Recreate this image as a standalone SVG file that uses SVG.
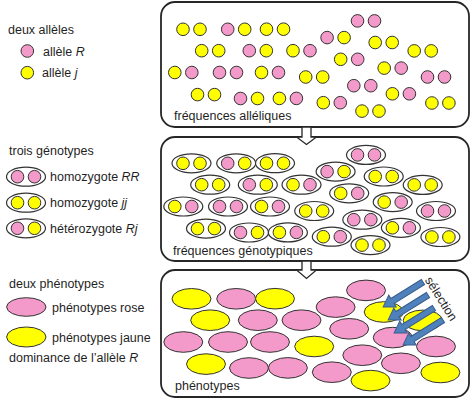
<svg xmlns="http://www.w3.org/2000/svg" width="474" height="402" viewBox="0 0 474 402">
<style>
.t{font-family:"Liberation Sans",Arial,sans-serif;font-size:12.5px;fill:#1f1f1f}
.p{fill:#F39ACB;stroke:#333;stroke-width:1}
.y{fill:#FFFF00;stroke:#333;stroke-width:1}
.o{fill:#fff;stroke:#333;stroke-width:1.2}
.panel{fill:#fff;stroke:#262626;stroke-width:1.8}
.ba{fill:#fff;stroke:#262626;stroke-width:1.3}
.sel{fill:#4F81BD;stroke:#385D8A;stroke-width:1}
</style>
<defs>
<g id="aPP"><circle class="p" cx="-8.5" r="6.3"/><circle class="p" cx="8.5" r="6.3"/></g>
<g id="aPY"><circle class="p" cx="-8.5" r="6.3"/><circle class="y" cx="8.5" r="6.3"/></g>
<g id="aYP"><circle class="y" cx="-8.5" r="6.3"/><circle class="p" cx="8.5" r="6.3"/></g>
<g id="aYY"><circle class="y" cx="-8.5" r="6.3"/><circle class="y" cx="8.5" r="6.3"/></g>
<g id="gPP"><ellipse class="o" rx="19.5" ry="9.5"/><use href="#aPP"/></g>
<g id="gPY"><ellipse class="o" rx="19.5" ry="9.5"/><use href="#aPY"/></g>
<g id="gYP"><ellipse class="o" rx="19.5" ry="9.5"/><use href="#aYP"/></g>
<g id="gYY"><ellipse class="o" rx="19.5" ry="9.5"/><use href="#aYY"/></g>
<ellipse id="eP" class="p" rx="19.5" ry="10.3"/>
<ellipse id="eY" class="y" rx="19.5" ry="10.3"/>
<path id="sa" class="sel" d="M0,-3 L36,-3 L36,-7 L47,0 L36,7 L36,3 L0,3 Z"/>
</defs>

<g id="legend-alleles">
<text class="t" x="8" y="34">deux allèles</text>
<circle class="p" cx="27.3" cy="51" r="6.3"/>
<text class="t" x="43" y="55.5">allèle <tspan font-style="italic">R</tspan></text>
<circle class="y" cx="27.3" cy="72.7" r="6.3"/>
<text class="t" x="42" y="77">allèle <tspan font-style="italic">j</tspan></text>
</g>

<g id="legend-genotypes">
<text class="t" x="9" y="155">trois génotypes</text>
<use href="#gPP" x="26" y="176.7"/>
<text class="t" x="50" y="181">homozygote <tspan font-style="italic">RR</tspan></text>
<use href="#gYY" x="26" y="202.7"/>
<text class="t" x="50" y="207">homozygote <tspan font-style="italic">jj</tspan></text>
<use href="#gPY" x="26" y="228.3"/>
<text class="t" x="50" y="233">hétérozygote <tspan font-style="italic">Rj</tspan></text>
</g>

<g id="legend-phenotypes">
<text class="t" x="9" y="288.3">deux phénotypes</text>
<ellipse class="p" cx="26.3" cy="307" rx="19.7" ry="9.3"/>
<text class="t" x="52" y="311.7">phénotypes rose</text>
<ellipse class="y" cx="26.3" cy="337" rx="19.7" ry="10"/>
<text class="t" x="52" y="341.7">phénotypes jaune</text>
<text class="t" x="9" y="361.7">dominance de l’allèle <tspan font-style="italic">R</tspan></text>
</g>

<g id="panel-alleles">
<rect class="panel" x="161" y="2" width="308" height="125" rx="14"/>
<use href="#aYY" x="191.5" y="29.3"/>
<use href="#aPY" x="236.2" y="29.3"/>
<use href="#aYY" x="275" y="29.2"/>
<use href="#aYY" x="210.2" y="50.7"/>
<use href="#aPY" x="257.8" y="50.7"/>
<use href="#aYP" x="301.5" y="50.7"/>
<use href="#aYP" x="183.3" y="72.5"/>
<use href="#aPP" x="228" y="72.5"/>
<use href="#aYP" x="270" y="72.5"/>
<use href="#aYY" x="314.2" y="77"/>
<use href="#aYY" x="206" y="94.6"/>
<use href="#aPY" x="249" y="98.5"/>
<use href="#aYP" x="287.9" y="98.4"/>
<use href="#aYP" x="331.8" y="102.7"/>
<use href="#aPP" x="366" y="20.9"/>
<use href="#aPY" x="335.6" y="37.6"/>
<use href="#aYY" x="383.7" y="42.5"/>
<use href="#aYY" x="422.7" y="50.9"/>
<use href="#aYP" x="349.2" y="59.3"/>
<use href="#aYP" x="392.7" y="68.1"/>
<use href="#aPP" x="436" y="77"/>
<use href="#aPP" x="362.3" y="85.7"/>
<use href="#aYP" x="400.9" y="93.8"/>
<use href="#aYY" x="440.4" y="103"/>
<use href="#aYY" x="370.5" y="111.1"/>
<text class="t" x="174" y="120">fréquences alléliques</text>
</g>

<g id="panel-genotypes">
<rect class="panel" x="161" y="137" width="308" height="124" rx="14"/>
<g transform="translate(0,134)">
<use href="#gYY" x="191.5" y="29.3"/>
<use href="#gPY" x="236.2" y="29.3"/>
<use href="#gYY" x="275" y="29.2"/>
<use href="#gYY" x="210.2" y="50.7"/>
<use href="#gPY" x="257.8" y="50.7"/>
<use href="#gYP" x="301.5" y="50.7"/>
<use href="#gYP" x="183.3" y="72.5"/>
<use href="#gPP" x="228" y="72.5"/>
<use href="#gYP" x="270" y="72.5"/>
<use href="#gYY" x="314.2" y="77"/>
<use href="#gYY" x="206" y="94.6"/>
<use href="#gPY" x="249" y="98.5"/>
<use href="#gYP" x="287.9" y="98.4"/>
<use href="#gYP" x="331.8" y="102.7"/>
<use href="#gPP" x="366" y="20.9"/>
<use href="#gPY" x="335.6" y="37.6"/>
<use href="#gYY" x="383.7" y="42.5"/>
<use href="#gYY" x="422.7" y="50.9"/>
<use href="#gYP" x="349.2" y="59.3"/>
<use href="#gYP" x="392.7" y="68.1"/>
<use href="#gPP" x="436" y="77"/>
<use href="#gPP" x="362.3" y="85.7"/>
<use href="#gYP" x="400.9" y="93.8"/>
<use href="#gYY" x="440.4" y="103"/>
<use href="#gYY" x="370.5" y="111.1"/>
</g>
<text class="t" x="173" y="255">fréquences génotypiques</text>
</g>

<g id="panel-phenotypes">
<rect class="panel" x="161" y="270" width="308" height="127" rx="14"/>
<g transform="translate(0,269.5)">
<use href="#eY" x="191.5" y="29.3"/>
<use href="#eP" x="236.2" y="29.3"/>
<use href="#eY" x="275" y="29.2"/>
<use href="#eY" x="210.2" y="50.7"/>
<use href="#eP" x="257.8" y="50.7"/>
<use href="#eP" x="301.5" y="50.7"/>
<use href="#eP" x="183.3" y="72.5"/>
<use href="#eP" x="228" y="72.5"/>
<use href="#eP" x="270" y="72.5"/>
<use href="#eY" x="314.2" y="77"/>
<use href="#eY" x="206" y="94.6"/>
<use href="#eP" x="249" y="98.5"/>
<use href="#eP" x="287.9" y="98.4"/>
<use href="#eP" x="331.8" y="102.7"/>
<use href="#eP" x="366" y="20.9"/>
<use href="#eP" x="335.6" y="37.6"/>
<use href="#eY" x="383.7" y="42.5"/>
<use href="#eY" x="422.7" y="50.9"/>
<use href="#eP" x="349.2" y="59.3"/>
<use href="#eP" x="392.7" y="68.1"/>
<use href="#eP" x="436" y="77"/>
<use href="#eP" x="362.3" y="85.7"/>
<use href="#eP" x="400.9" y="93.8"/>
<use href="#eY" x="440.4" y="103"/>
<use href="#eY" x="370.5" y="111.1"/>
</g>
<text class="t" x="175" y="389.7">phénotypes</text>
</g>

<g id="selection">
<use href="#sa" transform="translate(423,282) rotate(148)"/>
<use href="#sa" transform="translate(428,295) rotate(148)"/>
<use href="#sa" transform="translate(434,308) rotate(148)"/>
<use href="#sa" transform="translate(443,320) rotate(148)"/>
<text class="t" transform="translate(424.5,280) rotate(58)">sélection</text>
</g>

<g id="connectors">
<polygon class="ba" points="302,127 311,127 311,137 316.5,137 306.5,144.5 296.5,137 302,137"/>
<polygon class="ba" points="302,261 311,261 311,270 316.5,270 306.5,278.5 296.5,270 302,270"/>
</g>
</svg>
